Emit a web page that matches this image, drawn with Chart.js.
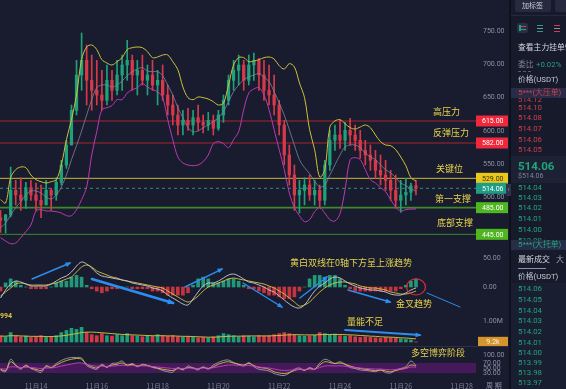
<!DOCTYPE html>
<html><head><meta charset="utf-8">
<script src="https://cdn.jsdelivr.net/npm/chart.js@4.4.1/dist/chart.umd.min.js"></script>
<style>
*{box-sizing:border-box}
html,body{margin:0;padding:0;width:566px;height:389px;overflow:hidden;background:#181c2e}
.pane{position:absolute;left:0;width:510px}
.pane canvas{display:block}
#sep{position:absolute;left:509px;top:0;width:2px;height:389px;background:#0f121e}
#tab{position:absolute;left:506px;top:184px;width:5px;height:12px;background:#2d3349;color:#8a90a6;font:7px Roboto;line-height:12px;text-align:center}
#hsep{position:absolute;left:0;top:346px;width:509px;height:1px;background:#2a2f44}
#side{position:absolute;left:511px;top:0;width:55px;height:389px;background:#161a2a;overflow:hidden;font-family:Roboto,"Noto Sans CJK SC",sans-serif}
.t{position:absolute;white-space:nowrap;line-height:10px;height:10px;font-size:7.8px;font-family:Roboto,"Noto Sans CJK SC",sans-serif}
.r{color:#d13f4c}.g{color:#22a57b}
.ann{position:absolute;white-space:nowrap;color:#e6d34c;font-size:9px;line-height:9px;font-family:"Noto Sans CJK SC",sans-serif}
</style></head><body>
<div class="pane" style="top:0;height:250px"><canvas id="cPrice" width="510" height="250"></canvas></div>
<div class="pane" style="top:250px;height:62px"><canvas id="cMacd" width="510" height="62"></canvas></div>
<div class="pane" style="top:312px;height:34px"><canvas id="cVol" width="510" height="34"></canvas></div>
<div class="pane" style="top:347px;height:42px"><canvas id="cRsi" width="510" height="42"></canvas></div>
<div id="hsep"></div>
<div id="sep"></div>
<div id="tab">›</div>

<div class="ann" style="left:433px;top:107px">高压力</div>
<div class="ann" style="left:433px;top:128px">反弹压力</div>
<div class="ann" style="left:436px;top:164px">关键位</div>
<div class="ann" style="left:435px;top:194px">第一支撑</div>
<div class="ann" style="left:437px;top:218px">底部支撑</div>
<div class="ann" style="left:290px;top:258px">黄白双线在0轴下方呈上涨趋势</div>
<div class="ann" style="left:396px;top:299px">金叉趋势</div>
<div class="ann" style="left:347px;top:317px">量能不足</div>
<div class="ann" style="left:411px;top:348px">多空博弈阶段</div>
<div class="t" style="left:0;top:311px;color:#d8c640;font-weight:bold;font-size:7px">994</div>
<div class="t" style="left:486px;top:381px;color:#8b90a4;font-size:7px">周 期</div>

<div id="side">
  <div style="position:absolute;left:4px;top:-2px;width:36px;height:14px;background:#252a3e;border-radius:2px"></div>
  <div class="t" style="left:11px;top:1px;color:#c5c9d6;font-size:7px">加标签</div>
  <div style="position:absolute;left:44px;top:-2px;width:20px;height:14px;background:#252a3e;border-radius:2px"></div>
  <div style="position:absolute;left:0;top:15px;width:55px;height:1px;background:#23283a"></div>
  <div style="position:absolute;left:6px;top:23px;width:11px;height:10px;background:#283047;border-radius:2px"></div>
  <div style="position:absolute;left:8px;top:25px;width:2px;height:6px;background:#22a57b"></div>
  <div style="position:absolute;left:10px;top:26px;width:5px;height:1px;background:#d13f4c"></div>
  <div style="position:absolute;left:10px;top:29px;width:5px;height:1px;background:#22a57b"></div>
  <div style="position:absolute;left:26px;top:25px;width:6px;height:1px;background:#22a57b"></div>
  <div style="position:absolute;left:26px;top:28px;width:6px;height:1px;background:#8a8fa3"></div>
  <div style="position:absolute;left:26px;top:31px;width:6px;height:1px;background:#22a57b"></div>
  <div style="position:absolute;left:43px;top:25px;width:6px;height:1px;background:#d13f4c"></div>
  <div style="position:absolute;left:43px;top:28px;width:6px;height:1px;background:#8a8fa3"></div>
  <div style="position:absolute;left:43px;top:31px;width:6px;height:1px;background:#d13f4c"></div>
  <div class="t" style="left:7px;top:43px;color:#d6d9e2">查看主力挂单情况</div>
  <div class="t" style="left:7px;top:60px;color:#7e8397">委比</div>
  <div style="position:absolute;left:7px;top:71px;width:13px;border-top:1px dashed #555a70"></div>
  <div class="t g" style="left:25px;top:60px">+0.02%</div>
  <div class="t" style="left:7px;top:75px;color:#c4c8d4">价格(USDT)</div>
  <div class="t r" style="left:7px;top:95px">514.12</div>
  <div style="position:absolute;left:0;top:88px;width:55px;height:10px;background:#272d47"></div>
  <div class="t r" style="left:7px;top:88px">5***(大压单)</div>
  <div class="t r" style="left:7px;top:103px">514.10</div>
  <div class="t r" style="left:7px;top:113px">514.08</div>
  <div class="t r" style="left:7px;top:124px">514.07</div>
  <div class="t r" style="left:7px;top:135px">514.06</div>
  <div class="t r" style="left:7px;top:145px">514.05</div>
  <div style="position:absolute;left:0;top:156px;width:55px;height:27px;background:#1c2134"></div>
  <div class="t g" style="left:7px;top:159px;font-size:11.5px;font-weight:bold;height:14px;line-height:14px">514.06</div>
  <div class="t" style="left:7px;top:171px;color:#7f8496;font-size:7px">$514.06</div>
  <div class="t g" style="left:7px;top:183px">514.04</div>
  <div class="t g" style="left:7px;top:193px">514.03</div>
  <div class="t g" style="left:7px;top:203px">514.02</div>
  <div class="t g" style="left:7px;top:214px">514.01</div>
  <div class="t g" style="left:7px;top:225px">514.00</div>
  <div class="t g" style="left:7px;top:236px">513.99</div>
  <div style="position:absolute;left:0;top:240px;width:55px;height:10px;background:#272d47"></div>
  <div class="t g" style="left:7px;top:240px">5***(大托单)</div>
  <div class="t" style="left:7px;top:255px;color:#d6d9e2;font-size:8px">最新成交</div>
  <div class="t" style="left:45px;top:255px;color:#9da2b3;font-size:8px">大</div>
  <div style="position:absolute;left:7px;top:268px;width:28px;height:1px;background:#8a90a8"></div>
  <div class="t" style="left:7px;top:272px;color:#c4c8d4">价格(USDT)</div>
  <div style="position:absolute;left:0;top:283px;width:55px;height:106px;background:#191e30"></div>
  <div class="t g" style="left:7px;top:284px">514.06</div>
  <div class="t g" style="left:7px;top:295px">514.05</div>
  <div class="t g" style="left:7px;top:306px">514.04</div>
  <div class="t g" style="left:7px;top:316px">514.03</div>
  <div class="t g" style="left:7px;top:327px">514.02</div>
  <div class="t g" style="left:7px;top:338px">514.01</div>
  <div class="t g" style="left:7px;top:348px">514.00</div>
  <div class="t g" style="left:7px;top:358px">513.99</div>
  <div class="t g" style="left:7px;top:368px">513.98</div>
  <div class="t g" style="left:7px;top:378px">513.97</div>
</div>

<script>
// ---------- data ----------
const openP  = [470,466,474,511,504,496,515,504,496,489, 511,504,523,549,579,631,684,706,676,661, 654,646,676,661,684,699,706,684,691,676, 684,669,676,654,639,624,609,616,609,620, 613,609,616,604,624,646,676,691,699,676, 699,706,684,661,654,639,609,564,534,504, 511,519,504,511,496,549,586,594,586,601, 594,586,571,564,556,541,534,526,511,496, 504,508,518];
const highP  = [481,475,546,526,530,523,526,522,519,526, 514,530,556,586,639,706,747,729,714,706, 691,699,691,706,714,736,714,706,714,699, 706,691,699,669,654,639,631,634,631,639, 624,628,624,631,654,684,706,714,706,714, 717,709,706,699,684,646,616,579,549,526, 530,534,526,519,556,601,609,616,613,619, 609,601,586,579,571,564,556,541,534,526, 529,522,526];
const lowP   = [448,447,471,489,481,484,496,481,470,489, 481,496,519,544,579,624,661,639,631,639, 631,639,646,654,661,676,661,654,669,654, 661,639,646,624,609,594,594,601,594,601, 597,601,594,601,613,639,661,669,661,669, 676,661,646,639,624,594,549,519,481,477, 489,496,489,486,489,541,571,574,571,579, 571,559,549,541,529,519,511,496,484,478, 489,496,504];
const closeP = [466,474,511,504,496,515,504,496,489,511, 504,523,549,579,631,684,706,676,661,654, 646,676,661,684,699,706,684,691,676,684, 669,676,654,639,624,609,616,609,620,613, 609,616,604,624,646,676,691,699,676,699, 706,684,661,654,639,609,564,534,504,511, 519,504,511,496,549,586,594,586,601,594, 586,571,564,556,541,534,526,511,496,504, 508,518,514.06];

const bollUpper = [497,492,530,542,546,545,534,527,524,522,524,527,549,587,617,654,707,726,729,722,707,702,699,704,710,722,725,726,725,719,710,711,714,714,704,692,666,650,647,651,650,648,644,639,642,669,699,710,710,704,705,707,710,711,708,698,693,701,696,672,650,602,572,531,542,606,615,617,611,605,603,606,609,605,594,584,579,578,572,561,548,530,525];
const bollMid   = [455,462,474,485,494,504,510,510,507,501,498,504,516,534,557,578,600,624,647,665,669,669,666,669,675,683,689,693,695,690,689,689,683,669,654,635,620,605,599,600,605,609,614,620,629,644,659,669,677,681,684,686,681,674,659,642,624,602,579,557,545,536,525,516,519,534,549,564,576,579,579,575,567,561,557,549,542,537,530,522,518,513,510];
const bollLower = [440,435,431,432,440,449,459,480,482,480,480,479,477,473,473,482,497,516,564,599,632,635,638,647,647,657,662,665,671,666,662,659,650,617,587,561,552,549,548,549,554,564,581,584,581,575,587,599,632,657,663,665,654,632,602,572,542,507,485,473,464,467,479,485,477,467,465,476,512,557,560,557,542,527,522,515,509,497,486,480,482,483,483];

const macdDif  = [-19,-5.2,5.2,10.3,8.6,5.2,1.7,1.7,1.7,1.7, 5.2,10.3,15.5,19,25.9,36.2,43.1,39.7,32.8,24.1, 19,17.2,15.5,13.8,12.1,10.3,6.9,5.2,3.4,1.7, -1.7,-3.4,-6.9,-13.8,-19,-24.1,-29.3,-31,-20.7,-8.6, 1.7,6.9,6.9,10.3,15.5,20.7,22.4,19,13.8,8.6, 6.9,3.4,0,-5.2,-8.6,-15.5,-22.4,-29.3,-34.5,-36.2, -31,-19,-6.9,1.7,6.9,13.8,17.2,15.5,10.3,5.2, 1.7,-1.7,-3.4,-5.2,-5.2,-6.9,-8.6,-12.1,-13.8,-13.8, -10.3,-5.2,-1.7];
const macdDea  = [-15.5,-8.6,-1.7,5.2,6.9,5.2,3.4,3.4,3.4,3.4, 5.2,6.9,10.3,13.8,17.2,25.9,34.5,37.9,34.5,27.6, 24.1,20.7,17.2,15.5,12.1,10.3,8.6,6.9,5.2,3.4, 1.7,0,-1.7,-6.9,-12.1,-17.2,-22.4,-25.9,-22.4,-15.5, -6.9,0,3.4,6.9,10.3,13.8,15.5,13.8,12.1,10.3, 8.6,6.9,5.2,1.7,-1.7,-6.9,-12.1,-19,-25.9,-32.8, -31,-25.9,-17.2,-8.6,-1.7,3.4,6.9,8.6,8.6,6.9, 5.2,1.7,0,-1.7,-1.7,-3.4,-5.2,-8.6,-10.3,-12.1, -12.1,-10.3,-6.9];
const macdHist = [-7,7,14,10,3,0,-3,-3,-3,-3, 0,7,10,10,17,20,17,3,-3,-7, -10,-7,-3,-3,0,0,-3,-3,-3,-3, -7,-7,-10,-14,-14,-14,-14,-10,3,14, 17,14,7,7,10,14,14,10,3,-3, -3,-7,-10,-14,-14,-17,-20,-20,-17,-7, 0,14,20,20,17,20,20,14,3,-3, -7,-7,-7,-7,-7,-7,-7,-7,-7,-3, 3,10,14];

const volume = [.30,.25,.45,.30,.25,.28,.22,.25,.30,.22, .25,.30,.45,.55,.65,.60,.70,.45,.35,.30, .40,.30,.28,.35,.30,.40,.30,.28,.25,.30, .28,.35,.30,.28,.30,.25,.22,.25,.22,.20, .22,.20,.25,.30,.40,.35,.30,.25,.30,.28, .25,.30,.28,.30,.35,.40,.45,.40,.35,.30, .28,.30,.32,.45,.40,.35,.38,.30,.28,.30, .25,.22,.25,.22,.20,.18,.22,.20,.18,.15, .12,.10,.0092];
const volumeMA = [.28,.28,.30,.30,.29,.28,.27,.27,.27,.26, .26,.27,.29,.32,.36,.40,.45,.47,.47,.46, .44,.42,.40,.38,.36,.35,.34,.33,.32,.31, .30,.30,.30,.29,.29,.28,.27,.27,.26,.25, .24,.23,.23,.24,.26,.27,.28,.28,.28,.29, .29,.29,.29,.29,.30,.31,.33,.34,.35,.35, .34,.34,.34,.35,.36,.36,.36,.36,.35,.34, .33,.31,.30,.28,.27,.25,.24,.23,.22,.20, .19,.17,.15];

const rsi6  = [42,35,85,62,45,62,48,40,32,60, 52,68,80,88,92,92,90,60,50,45, 65,52,68,70,78,60,68,55,65,60, 52,48,40,35,33,52,42,58,50,42, 55,45,62,72,80,82,72,65,58,72, 55,45,42,38,28,22,20,30,45,50, 40,52,45,70,85,78,68,75,65,52, 48,42,40,38,35,42,32,30,42,48, 55,78,60];
const rsi12 = [45,40,75,60,50,58,50,45,40,55, 52,62,72,80,85,88,85,65,55,50, 60,55,62,65,70,62,65,58,62,60, 55,50,45,42,40,48,45,52,50,47, 52,48,55,65,72,75,70,65,62,68, 60,52,50,45,35,30,28,32,40,45, 42,48,45,62,75,72,68,70,65,58, 52,48,45,42,40,42,38,35,40,45, 50,62,58];
const rsi24 = [48,46,55,54,52,53,52,50,48,50, 50,53,58,62,66,70,70,64,60,57, 58,56,58,59,61,59,60,58,59,58, 56,54,52,50,48,49,48,50,49,48, 50,49,51,55,59,62,62,60,59,60, 57,54,52,50,46,42,40,41,43,45, 44,46,45,52,58,59,58,59,57,54, 52,50,48,47,46,46,44,43,44,46, 48,54,53];

const levels      = [615, 582, 529, 514.06, 485, 445];
const levelColors = ['#a8262f','#a8262f','#c9b73a','#2f8f88','#3d8a2c','#3d8a2c'];
const levelBoxBg  = ['#f0283c','#f0283c','#e8c81c','#1f9c84','#4fb520','#4fb520'];
const levelBoxFg  = ['#ffffff','#ffffff','#3a3000','#ffffff','#ffffff','#ffffff'];
const priceTicks = [500,550,600,650,700,750,800];
const macdTicks  = [0,50];
const volTicks   = [1];
const rsiTicks   = [30,50,70,100];
const dateTicks  = [14,16,18,20,22,24,26,28];
const lastVolumeLabel = '9.2k';

// annotations in data units: [day1, v1, day2, v2, lineWidth, headSize]
const macdArrows = [
  [13.87,13.8,15.12,41.4,1.4,5],
  [15.84,13.8,18.51,-27.6,2.6,6],
  [18.90,0,20.12,31.0,1.4,5],
  [20.81,6.9,22.09,-34.5,1.4,5],
  [22.68,-19.0,23.57,17.2,1.4,5],
  [24.26,-5.2,25.65,-25.9,1.4,5],
  [26.86,-10.3,27.95,-34.5,1,0]
];
const volArrows = [[24.17,0.57,26.63,0.33,2,5]];
const circleAt = [26.5, 0];

// ---------- setup ----------
const dayMin = 12.816, dayMax = 28.54;
const times = openP.map((_, i) => 12 + 20/24 + i*4/24);
const GREEN = '#1fa27a', RED = '#d8394a', BLUE = '#2b8ef0';
const isUp = closeP.map((c, i) => c >= openP[i]);
const candleColors = isUp.map(u => u ? GREEN : RED);

Chart.defaults.animation = false;
Chart.defaults.font.family = 'Roboto, "Noto Sans CJK SC", sans-serif';
Chart.defaults.plugins.legend.display = false;
Chart.defaults.plugins.tooltip.enabled = false;

const pts = arr => arr.map((v, i) => ({x: times[i], y: v}));
const lineDs = (data, color, w) => ({type:'line', data, borderColor:color, borderWidth:w, pointRadius:0, tension:0.35, order:0});

const yRight = (min, max, ticks, fmt) => ({
  position:'right', min, max,
  grid:{display:false, drawTicks:false}, border:{display:false},
  ticks:{color:'#8b90a4', font:{size:7, family:'Roboto'}, padding:5, autoSkip:false, callback:fmt},
  afterBuildTicks: s => { s.ticks = ticks.map(v => ({value:v})); },
  afterFit: s => { s.width = 32; s.paddingTop = 0; s.paddingBottom = 0; }
});
const xHidden = () => ({type:'linear', min:dayMin, max:dayMax, offset:false, display:false, grid:{display:false}});
const baseOpts = (scales) => ({responsive:false, devicePixelRatio:1, layout:{padding:0}, scales,
  plugins:{legend:{display:false}, tooltip:{enabled:false}}});

function drawArrow(ctx, x1, y1, x2, y2, w, head){
  ctx.strokeStyle = BLUE; ctx.lineWidth = w; ctx.lineCap = 'round';
  ctx.beginPath(); ctx.moveTo(x1, y1); ctx.lineTo(x2, y2); ctx.stroke();
  if (head > 0){
    const a = Math.atan2(y2 - y1, x2 - x1);
    ctx.fillStyle = BLUE; ctx.beginPath();
    ctx.moveTo(x2 + Math.cos(a)*1.5, y2 + Math.sin(a)*1.5);
    ctx.lineTo(x2 - head*Math.cos(a - 0.5), y2 - head*Math.sin(a - 0.5));
    ctx.lineTo(x2 - head*Math.cos(a + 0.5), y2 - head*Math.sin(a + 0.5));
    ctx.closePath(); ctx.fill();
  }
}

// ---------- price ----------
const levelBoxes = {id:'levelBoxes', afterDraw(chart){
  const {ctx, chartArea, scales:{y}} = chart;
  ctx.save(); ctx.font = '7px Roboto'; ctx.textBaseline = 'middle';
  levels.forEach((v, i) => {
    const py = y.getPixelForValue(v);
    ctx.fillStyle = levelBoxBg[i];
    ctx.fillRect(chartArea.right - 2, py - 5.5, 32, 11);
    ctx.fillStyle = levelBoxFg[i];
    ctx.fillText(v.toFixed(2), chartArea.right + 4, py + 0.5);
  });
  ctx.restore();
}};

const priceDatasets = [
  lineDs(pts(bollUpper), '#cfc03a', 1),
  lineDs(pts(bollMid), '#80849c', 0.8),
  lineDs(pts(bollLower), '#bb3ab2', 1),
  {type:'bar', data: times.map((t, i) => ({x:t, y:[openP[i], closeP[i]]})), backgroundColor:candleColors, barThickness:2.6, grouped:false, order:1},
  {type:'bar', data: times.map((t, i) => ({x:t, y:[lowP[i], highP[i]]})), backgroundColor:candleColors, barThickness:1, grouped:false, order:2}
];
levels.forEach((v, i) => priceDatasets.push({
  type:'line', data:[{x:dayMin, y:v}, {x:dayMax, y:v}], borderColor:levelColors[i],
  borderWidth: v === 485 ? 1.6 : 1, borderDash: v === 514.06 ? [3,3] : [], pointRadius:0, order:3
}));

new Chart(document.getElementById('cPrice'), {
  type:'bar', data:{datasets:priceDatasets},
  options: baseOpts({x:xHidden(), y:yRight(421.5, 796.5, priceTicks, v => v.toFixed(2))}),
  plugins:[levelBoxes]
});

// ---------- MACD ----------
const macdDeco = {id:'macdDeco', afterDatasetsDraw(chart){
  const {ctx, scales:{x, y}} = chart;
  ctx.save();
  macdArrows.forEach(a => drawArrow(ctx, x.getPixelForValue(a[0]), y.getPixelForValue(a[1]), x.getPixelForValue(a[2]), y.getPixelForValue(a[3]), a[4], a[5]));
  ctx.strokeStyle = '#e0303c'; ctx.lineWidth = 1.2;
  ctx.beginPath(); ctx.ellipse(x.getPixelForValue(circleAt[0]), y.getPixelForValue(circleAt[1]), 9.5, 8, 0, 0, Math.PI*2); ctx.stroke();
  ctx.restore();
}};
new Chart(document.getElementById('cMacd'), {
  type:'bar',
  data:{datasets:[
    lineDs(pts(macdDif), '#c9cbd6', 0.9),
    lineDs(pts(macdDea), '#d8c640', 0.9),
    {type:'bar', data:pts(macdHist), backgroundColor: macdHist.map(v => v >= 0 ? '#23997a' : '#c4343f'), barThickness:3, grouped:false, order:1}
  ]},
  options: baseOpts({x:xHidden(), y:yRight(-43.1, 63.8, macdTicks, v => v.toFixed(2))}),
  plugins:[macdDeco]
});

// ---------- volume ----------
const volDeco = {id:'volDeco', afterDraw(chart){
  const {ctx, chartArea, scales:{x, y}} = chart;
  ctx.save();
  volArrows.forEach(a => drawArrow(ctx, x.getPixelForValue(a[0]), y.getPixelForValue(a[1]), x.getPixelForValue(a[2]), y.getPixelForValue(a[3]), a[4], a[5]));
  const py = y.getPixelForValue(volume[volume.length - 1]);
  ctx.fillStyle = '#d4952c'; ctx.fillRect(chartArea.right, py - 5, 30, 10);
  ctx.fillStyle = '#fff2dc'; ctx.font = '7px Roboto'; ctx.textBaseline = 'middle'; ctx.textAlign = 'center';
  ctx.fillText(lastVolumeLabel, chartArea.right + 15, py + 0.5);
  ctx.restore();
}};
new Chart(document.getElementById('cVol'), {
  type:'bar',
  data:{datasets:[
    lineDs(pts(volumeMA), '#d8c640', 0.9),
    {type:'bar', data:pts(volume), backgroundColor: isUp.map(u => u ? '#1f9d78' : '#cf3a46'), barThickness:3, grouped:false, order:1}
  ]},
  options: baseOpts({x:xHidden(), y:yRight(-0.19, 1.4286, volTicks, v => v.toFixed(2) + 'M')}),
  plugins:[volDeco]
});

// ---------- RSI ----------
const rsiBand = {id:'rsiBand', beforeDatasetsDraw(chart){
  const {ctx, chartArea, scales:{y}} = chart;
  const t = y.getPixelForValue(70), b = y.getPixelForValue(30);
  ctx.save(); ctx.fillStyle = '#46195a';
  ctx.fillRect(chartArea.left, t, chartArea.right - chartArea.left - 2, b - t);
  ctx.restore();
}};
new Chart(document.getElementById('cRsi'), {
  type:'line',
  data:{datasets:[
    lineDs(pts(rsi24), '#c440c4', 0.9),
    lineDs(pts(rsi12), '#d8c640', 0.9),
    lineDs(pts(rsi6), '#a9adbd', 0.8)
  ]},
  options: baseOpts({
    x:{type:'linear', min:dayMin, max:dayMax, offset:false, position:'bottom',
       grid:{display:false, drawTicks:false}, border:{display:false},
       ticks:{color:'#7d8297', font:{size:7, family:'"Noto Sans CJK SC", Roboto'}, padding:2, maxRotation:0, autoSkip:false, callback: v => '11月' + v},
       afterBuildTicks: s => { s.ticks = dateTicks.map(v => ({value:v})); },
       afterFit: s => { s.height = 9; s.paddingLeft = 0; s.paddingRight = 0; }},
    y: yRight(2, 134, rsiTicks, v => v.toFixed(2))
  }),
  plugins:[rsiBand]
});
</script>
</body></html>
